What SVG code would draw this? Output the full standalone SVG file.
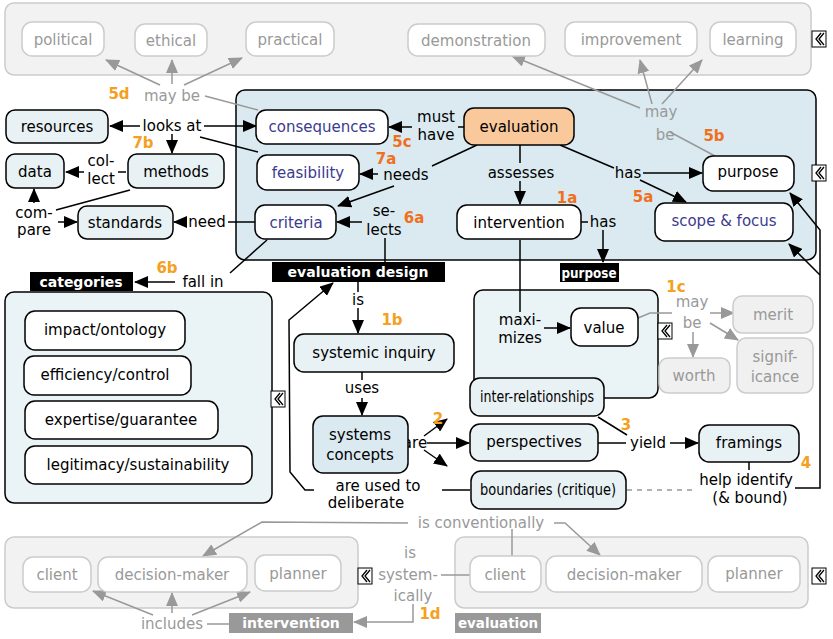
<svg xmlns="http://www.w3.org/2000/svg" width="833" height="639" viewBox="0 0 833 639">
<style>
text{font-family:"DejaVu Sans","Verdana",sans-serif;font-size:15px;fill:#000}
.c{text-anchor:middle}
.n{fill:#fff;stroke:#000;stroke-width:1.5}
.lb{fill:#e8f1f4;stroke:#000;stroke-width:1.5}
.db{fill:#daeaf0;stroke:#000;stroke-width:1.5}
.gc{fill:#f2f2f2;stroke:#ccc;stroke-width:1.5}
.gn{fill:#fff;stroke:#ccc;stroke-width:1.5}
.gf{fill:#f0f0f0;stroke:#ccc;stroke-width:1.5}
.g{fill:#999}
.bl{fill:#3b3b8f}
.o1{fill:#f07020;font-weight:bold}
.o2{fill:#f5a020;font-weight:bold}
.tag{fill:#fff;font-weight:bold;font-size:14px}
.k{fill:none;stroke:#000;stroke-width:1.5}
.kg{fill:none;stroke:#999;stroke-width:1.5}
.ic{fill:#fff;stroke:#000;stroke-width:1}
</style>
<defs>
<marker id="a" viewBox="0 0 14 12" refX="13" refY="6" markerWidth="14" markerHeight="12" orient="auto" markerUnits="userSpaceOnUse"><path d="M0,0L14,6L0,12z" fill="#000"/></marker>
<marker id="ag" viewBox="0 0 14 12" refX="13" refY="6" markerWidth="14" markerHeight="12" orient="auto" markerUnits="userSpaceOnUse"><path d="M0,0L14,6L0,12z" fill="#999"/></marker>
<g id="icon"><rect x="-7" y="-8" width="14" height="16" class="ic"/><path d="M2,-6L-3,0L2,6M5,-6L0,0L5,6" fill="none" stroke="#000" stroke-width="1.3"/></g>
</defs>

<g id="top-container"><rect x="5" y="3" width="806" height="72" rx="9" class="gc"/></g>
<g id="evaluation-design-container"><rect x="236" y="90" width="580" height="170" rx="9" class="db"/></g>
<g id="categories-container"><rect x="5" y="292" width="267" height="211" rx="9" class="lb" style="fill:#eaf3f6"/></g>
<g id="purpose-container"><rect x="474" y="290" width="184" height="108" rx="9" class="lb" style="fill:#eaf3f6"/></g>
<g id="intervention-container"><rect x="5" y="537" width="353" height="71" rx="9" class="gc"/></g>
<g id="evaluation-container"><rect x="455" y="537" width="353" height="71" rx="9" class="gc"/></g>

<g id="connectors">
<path class="kg" d="M160,85L106,60" marker-end="url(#ag)"/>
<path class="kg" d="M172,84L172,60" marker-end="url(#ag)"/>
<path class="kg" d="M184,85L242,58" marker-end="url(#ag)"/>
<path class="kg" d="M205,96L258,110"/>
<path class="kg" d="M640,108L512,56" marker-end="url(#ag)"/>
<path class="kg" d="M652,104L640,60" marker-end="url(#ag)"/>
<path class="kg" d="M662,104L702,60" marker-end="url(#ag)"/>
<path class="kg" d="M670,132L715,156"/>
<path class="k" d="M140,126L110,126" marker-end="url(#a)"/>
<path class="k" d="M204,126L256,126" marker-end="url(#a)"/>
<path class="k" d="M172,134L172,153" marker-end="url(#a)"/>
<path class="k" d="M200,137L258,152"/>
<path class="k" d="M126,172L118,172"/>
<path class="k" d="M84,172L66,172" marker-end="url(#a)"/>
<path class="k" d="M56,210L130,190"/>
<path class="k" d="M34,203L34,189" marker-end="url(#a)"/>
<path class="k" d="M58,222L77,222" marker-end="url(#a)"/>
<path class="k" d="M186,222L174,222" marker-end="url(#a)"/>
<path class="k" d="M255,222L228,222"/>
<path class="k" d="M464,127L458,127"/>
<path class="k" d="M412,127L389,127" marker-end="url(#a)"/>
<path class="k" d="M477,145L432,166"/>
<path class="k" d="M378,174L360,174" marker-end="url(#a)"/>
<path class="k" d="M394,186L338,206" marker-end="url(#a)"/>
<path class="k" d="M362,222L337,222" marker-end="url(#a)"/>
<path class="k" d="M385,238L385,262"/>
<path class="k" d="M267,240L230,273"/>
<path class="k" d="M175,282L135,282" marker-end="url(#a)"/>
<path class="k" d="M520,145L520,163"/>
<path class="k" d="M520,181L520,204" marker-end="url(#a)"/>
<path class="k" d="M560,145L614,168"/>
<path class="k" d="M643,173L702,173" marker-end="url(#a)"/>
<path class="k" d="M640,180L686,202" marker-end="url(#a)"/>
<path class="k" d="M581,222L588,222"/>
<path class="k" d="M603,230L603,262" marker-end="url(#a)"/>
<path class="k" d="M520,240L520,312"/>
<path class="k" d="M544,328L570,328" marker-end="url(#a)"/>
<path class="kg" d="M638,318L650,313L672,313"/>
<path class="kg" d="M710,313L734,313" marker-end="url(#ag)"/>
<path class="kg" d="M693,332L693,357" marker-end="url(#ag)"/>
<path class="kg" d="M710,323L738,340" marker-end="url(#ag)"/>
<path class="k" d="M358,282L358,292"/>
<path class="k" d="M358,308L358,333" marker-end="url(#a)"/>
<path class="k" d="M362,372L362,380"/>
<path class="k" d="M362,398L362,415" marker-end="url(#a)"/>
<path class="k" d="M408,443L404,443"/>
<path class="k" d="M424,436L447,419" marker-end="url(#a)"/>
<path class="k" d="M427,443L469,443" marker-end="url(#a)"/>
<path class="k" d="M424,450L447,466" marker-end="url(#a)"/>
<path class="k" d="M598,443L626,443"/>
<path class="k" d="M598,417L627,435"/>
<path class="k" d="M670,443L698,443" marker-end="url(#a)"/>
<path class="k" d="M749,462L749,470"/>
<path class="k" d="M795,488L820,488L820,230L790,193" marker-end="url(#a)"/>
<path class="k" d="M820,275L789,244" marker-end="url(#a)"/>
<path class="kg" d="M627,490L697,490" stroke-dasharray="5,5"/>
<path class="k" d="M470,490L442,490"/>
<path class="k" d="M314,490L305,490L290,472L289,320L333,283" marker-end="url(#a)"/>
<path class="kg" d="M408,523L262,522L203,556" marker-end="url(#ag)"/>
<path class="kg" d="M554,523L565,523L600,555" marker-end="url(#ag)"/>
<path class="kg" d="M512,529L512,556"/>
<path class="kg" d="M441,575L470,575"/>
<path class="kg" d="M413,604L413,622L354,622" marker-end="url(#ag)"/>
<path class="kg" d="M153,615L93,591" marker-end="url(#ag)"/>
<path class="kg" d="M172,613L172,593" marker-end="url(#ag)"/>
<path class="kg" d="M192,615L250,592" marker-end="url(#ag)"/>
<path class="kg" d="M207,624L229,624"/>
</g>

<g id="labels">
<text x="172" y="101" class="c g">may be</text>
<text x="119" y="99" class="c o2">5d</text>
<text x="661" y="117" class="c g">may</text>
<text x="665" y="140" class="c g">be</text>
<text x="714" y="141" class="c o1">5b</text>
<text x="172" y="131" class="c">looks at</text>
<text x="143" y="148" class="c o2">7b</text>
<text x="101" y="166" class="c">col-</text>
<text x="101" y="184" class="c">lect</text>
<text x="34" y="218" class="c">com-</text>
<text x="34" y="235" class="c">pare</text>
<text x="207" y="227" class="c">need</text>
<text x="436" y="122" class="c">must</text>
<text x="436" y="140" class="c">have</text>
<text x="402" y="147" class="c o1">5c</text>
<text x="406" y="180" class="c">needs</text>
<text x="386" y="164" class="c o1">7a</text>
<text x="384" y="216" class="c">se-</text>
<text x="384" y="235" class="c">lects</text>
<text x="414" y="223" class="c o1">6a</text>
<text x="203" y="287" class="c">fall in</text>
<text x="167" y="273" class="c o2">6b</text>
<text x="521" y="178" class="c">assesses</text>
<text x="567" y="203" class="c o1">1a</text>
<text x="628" y="178" class="c">has</text>
<text x="643" y="202" class="c o1">5a</text>
<text x="603" y="227" class="c">has</text>
<text x="520" y="325" class="c">maxi-</text>
<text x="520" y="343" class="c">mizes</text>
<text x="676" y="292" class="c o2">1c</text>
<text x="692" y="307" class="c g">may</text>
<text x="692" y="328" class="c g">be</text>
<text x="358" y="305" class="c">is</text>
<text x="392" y="325" class="c o2">1b</text>
<text x="362" y="393" class="c">uses</text>
<text x="415" y="448" class="c">are</text>
<text x="438" y="424" class="c o2">2</text>
<text x="648" y="448" class="c">yield</text>
<text x="626" y="430" class="c o2">3</text>
<text x="806" y="468" class="c o2">4</text>
<text x="746" y="485" class="c">help identify</text>
<text x="750" y="503" class="c">(&amp; bound)</text>
<text x="378" y="491" class="c">are used to</text>
<text x="366" y="508" class="c">deliberate</text>
<text x="481" y="528" class="c g">is conventionally</text>
<text x="410" y="558" class="c g">is</text>
<text x="408" y="580" class="c g">system-</text>
<text x="413" y="601" class="c g">ically</text>
<text x="430" y="619" class="c o2">1d</text>
<text x="172" y="629" class="c g">includes</text>
</g>

<g id="tag-evaluation-design"><rect x="272" y="262" width="173" height="20"/><text x="358" y="277" class="c tag">evaluation design</text></g>
<g id="tag-categories"><rect x="30" y="272" width="103" height="19"/><text x="81" y="287" class="c tag">categories</text></g>
<g id="tag-purpose"><rect x="560" y="263" width="59" height="19"/><text x="589" y="278" class="c tag" textLength="55" lengthAdjust="spacingAndGlyphs">purpose</text></g>
<g id="tag-intervention"><rect x="229" y="613" width="124" height="20" fill="#999"/><text x="291" y="628" class="c tag">intervention</text></g>
<g id="tag-evaluation"><rect x="455" y="613" width="86" height="20" fill="#999"/><text x="498" y="628" class="c tag" textLength="80" lengthAdjust="spacingAndGlyphs">evaluation</text></g>

<g id="political"><rect x="22" y="22" width="82" height="34" rx="10" class="gn"/><text x="63" y="45" class="c g">political</text></g>
<g id="ethical"><rect x="135" y="24" width="72" height="32" rx="10" class="gn"/><text x="171" y="46" class="c g">ethical</text></g>
<g id="practical"><rect x="246" y="22" width="88" height="34" rx="10" class="gn"/><text x="290" y="45" class="c g">practical</text></g>
<g id="demonstration"><rect x="408" y="24" width="137" height="32" rx="10" class="gn"/><text x="476" y="46" class="c g">demonstration</text></g>
<g id="improvement"><rect x="565" y="22" width="132" height="34" rx="10" class="gn"/><text x="631" y="45" class="c g">improvement</text></g>
<g id="learning"><rect x="710" y="22" width="86" height="34" rx="10" class="gn"/><text x="753" y="45" class="c g">learning</text></g>
<g id="resources"><rect x="6" y="110" width="102" height="33" rx="9" class="lb"/><text x="57" y="132" class="c">resources</text></g>
<g id="data"><rect x="6" y="154" width="58" height="34" rx="9" class="lb"/><text x="35" y="177" class="c">data</text></g>
<g id="methods"><rect x="128" y="154" width="96" height="34" rx="9" class="lb"/><text x="176" y="177" class="c">methods</text></g>
<g id="standards"><rect x="78" y="206" width="95" height="33" rx="9" class="lb"/><text x="125" y="228" class="c">standards</text></g>
<g id="consequences"><rect x="256" y="110" width="132" height="34" rx="10" class="n"/><text x="322" y="132" class="c bl">consequences</text></g>
<g id="evaluation"><rect x="464" y="108" width="110" height="37" rx="10" fill="#f9c89b" stroke="#000" stroke-width="1.5"/><text x="519" y="132" class="c">evaluation</text></g>
<g id="feasibility"><rect x="257" y="155" width="102" height="35" rx="10" class="n"/><text x="308" y="178" class="c bl">feasibility</text></g>
<g id="criteria"><rect x="255" y="205" width="81" height="34" rx="10" class="n"/><text x="296" y="228" class="c bl">criteria</text></g>
<g id="intervention"><rect x="457" y="205" width="124" height="34" rx="10" class="n"/><text x="519" y="228" class="c">intervention</text></g>
<g id="purpose"><rect x="703" y="156" width="91" height="35" rx="10" class="n"/><text x="748" y="177" class="c">purpose</text></g>
<g id="scope-focus"><rect x="655" y="203" width="138" height="38" rx="10" class="n"/><text x="724" y="226" class="c bl">scope &amp; focus</text></g>
<g id="impact-ontology"><rect x="25" y="311" width="160" height="39" rx="10" class="n"/><text x="105" y="335" class="c">impact/ontology</text></g>
<g id="efficiency-control"><rect x="24" y="356" width="167" height="39" rx="10" class="n"/><text x="105" y="380" class="c">efficiency/control</text></g>
<g id="expertise-guarantee"><rect x="25" y="401" width="193" height="38" rx="10" class="n"/><text x="121" y="425" class="c">expertise/guarantee</text></g>
<g id="legitimacy-sustainability"><rect x="25" y="446" width="227" height="38" rx="10" class="n"/><text x="138" y="470" class="c">legitimacy/sustainability</text></g>
<g id="value"><rect x="571" y="308" width="67" height="38" rx="10" class="n"/><text x="604" y="333" class="c">value</text></g>
<g id="merit"><rect x="733" y="296" width="80" height="37" rx="9" class="gf"/><text x="773" y="320" class="c g">merit</text></g>
<g id="worth"><rect x="659" y="358" width="71" height="35" rx="9" class="gf"/><text x="694" y="381" class="c g">worth</text></g>
<g id="significance"><rect x="737" y="338" width="76" height="55" rx="9" class="gf"/><text x="775" y="362" class="c g">signif-</text><text x="775" y="382" class="c g">icance</text></g>
<g id="systemic-inquiry"><rect x="294" y="334" width="160" height="38" rx="10" class="lb"/><text x="374" y="358" class="c">systemic inquiry</text></g>
<g id="systems-concepts"><rect x="313" y="416" width="95" height="57" rx="10" class="db"/><text x="360" y="440" class="c">systems</text><text x="360" y="460" class="c">concepts</text></g>
<g id="inter-relationships"><rect x="470" y="378" width="134" height="38" rx="10" class="lb"/><text x="537" y="402" class="c" textLength="114" lengthAdjust="spacingAndGlyphs">inter-relationships</text></g>
<g id="perspectives"><rect x="470" y="424" width="128" height="37" rx="10" class="lb"/><text x="534" y="447" class="c">perspectives</text></g>
<g id="boundaries"><rect x="471" y="471" width="155" height="38" rx="10" class="lb"/><text x="548" y="495" class="c" textLength="136" lengthAdjust="spacingAndGlyphs">boundaries (critique)</text></g>
<g id="framings"><rect x="699" y="425" width="100" height="37" rx="10" class="lb"/><text x="749" y="448" class="c">framings</text></g>
<g id="int-client"><rect x="23" y="557" width="68" height="35" rx="10" class="gn"/><text x="57" y="580" class="c g">client</text></g>
<g id="int-decision-maker"><rect x="98" y="557" width="149" height="35" rx="10" class="gn"/><text x="172" y="580" class="c g">decision-maker</text></g>
<g id="int-planner"><rect x="255" y="555" width="86" height="36" rx="10" class="gn"/><text x="298" y="579" class="c g">planner</text></g>
<g id="eval-client"><rect x="470" y="556" width="71" height="36" rx="10" class="gn"/><text x="505" y="580" class="c g">client</text></g>
<g id="eval-decision-maker"><rect x="546" y="556" width="156" height="36" rx="10" class="gn"/><text x="624" y="580" class="c g">decision-maker</text></g>
<g id="eval-planner"><rect x="708" y="556" width="92" height="36" rx="10" class="gn"/><text x="754" y="579" class="c g">planner</text></g>

<g id="icons">
<use href="#icon" x="819" y="39"/>
<use href="#icon" x="819" y="173"/>
<use href="#icon" x="278" y="399"/>
<use href="#icon" x="665" y="331"/>
<use href="#icon" x="365" y="576"/>
<use href="#icon" x="819" y="576"/>
</g>
</svg>
